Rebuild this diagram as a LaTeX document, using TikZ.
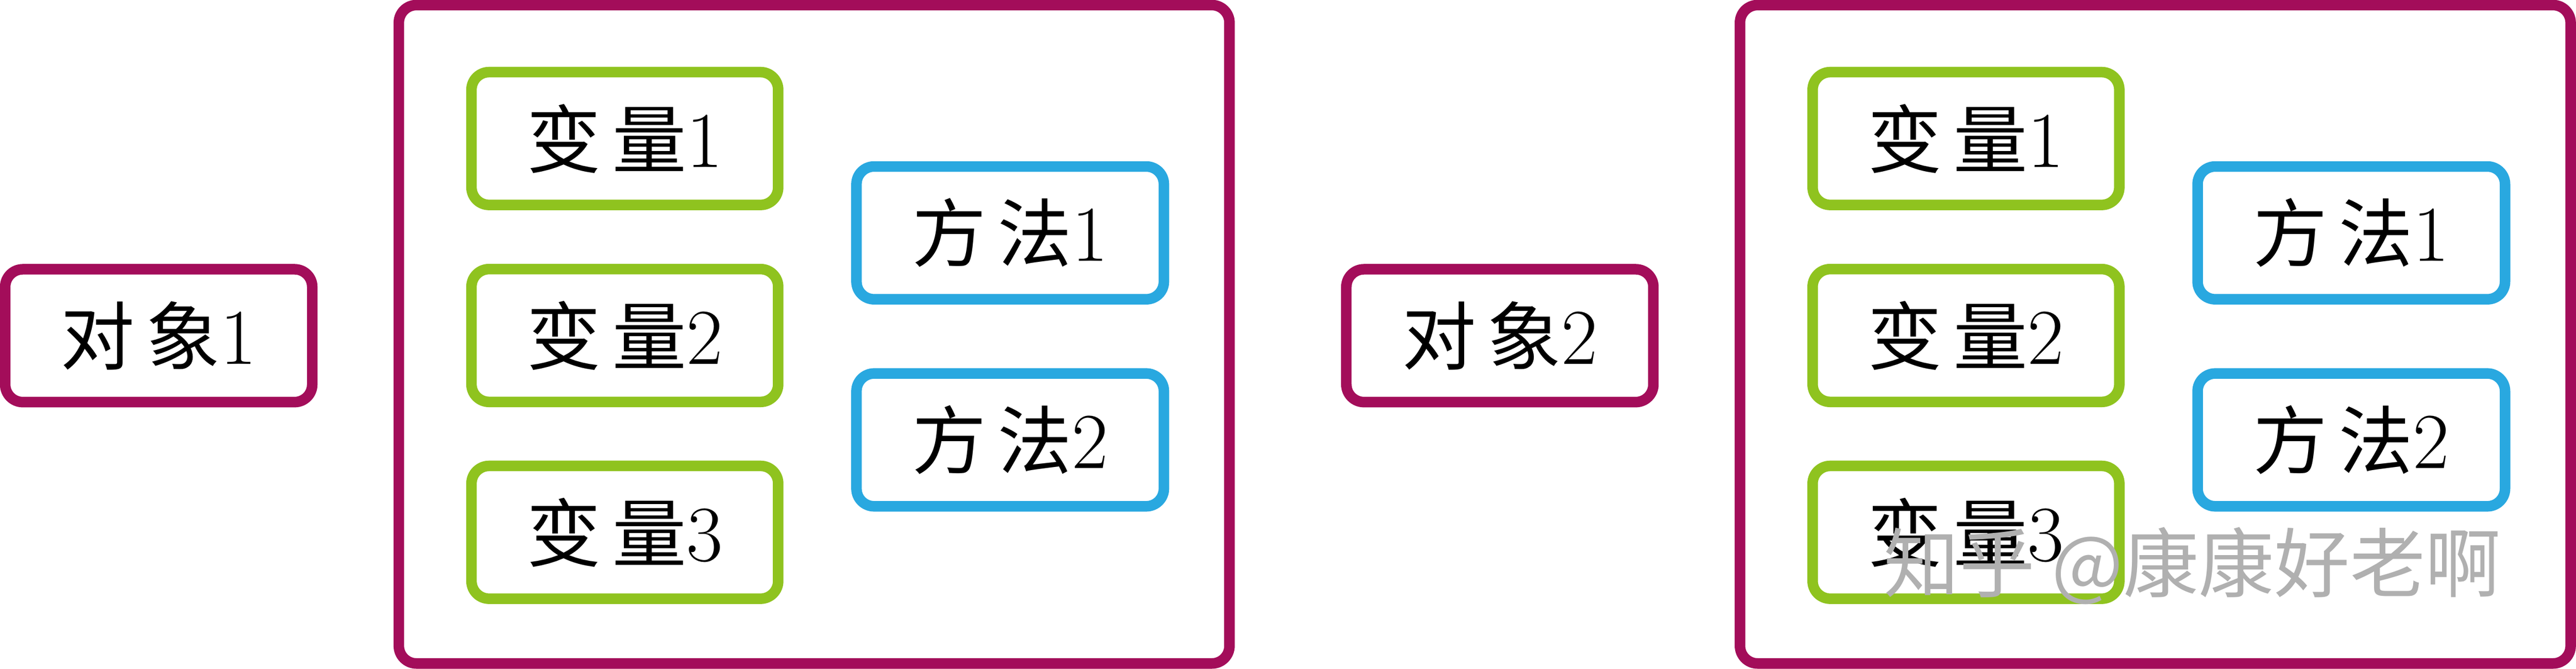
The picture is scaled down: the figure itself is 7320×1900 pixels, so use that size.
\documentclass[tikz,border=0pt]{standalone}
\usepackage{fontspec}
\newfontfamily\cjk{Noto Sans CJK SC}
\definecolor{objc}{HTML}{A30D5A}
\definecolor{varc}{HTML}{8FC31F}
\definecolor{metc}{HTML}{29A8E0}
\definecolor{wmc}{HTML}{B0B0B0}
\newcommand{\mylabel}[3]{{\cjk\fontsize{60pt}{72pt}\selectfont #1\hspace{9pt}#2}#3}
\begin{document}
\begin{tikzpicture}[x=0.01cm,y=-0.01cm,
  box/.style={draw, line width=0.3cm, rounded corners=0.5cm, inner sep=0pt,
    font=\fontsize{64pt}{72pt}\selectfont},
  objbox/.style={box, draw=objc, minimum width=8.72cm, minimum height=3.77cm},
  clsbox/.style={box, draw=objc, minimum width=23.59cm, minimum height=18.69cm},
  varbox/.style={box, draw=varc, minimum width=8.71cm, minimum height=3.77cm},
  metbox/.style={box, draw=metc, minimum width=8.73cm, minimum height=3.77cm},
  wmark/.style={text=wmc, font=\cjk\fontsize{61pt}{70pt}\selectfont, inner sep=0pt}
]
\useasboundingbox (0,0) rectangle (7320,1900);
\foreach \g/\dx in {1/0, 2/3811} {
  \node[clsbox] (cls\g) at (2313.5+\dx, 949.5) {};
  \node[objbox] (obj\g) at (451+\dx, 953.5) {\mylabel{对}{象}{\g}};
  \node[varbox] (var\g a) at (1775.5+\dx, 393.5) {\mylabel{变}{量}{1}};
  \node[varbox] (var\g b) at (1775.5+\dx, 953) {\mylabel{变}{量}{2}};
  \node[varbox] (var\g c) at (1775.5+\dx, 1512) {\mylabel{变}{量}{3}};
  \node[metbox] (met\g a) at (2870.5+\dx, 661.5) {\mylabel{方}{法}{1}};
  \node[metbox] (met\g b) at (2870.5+\dx, 1249.5) {\mylabel{方}{法}{2}};
}
\node[wmark] (wm) at (6230, 1608) {知乎 @康康好老啊};
\end{tikzpicture}
\end{document}
